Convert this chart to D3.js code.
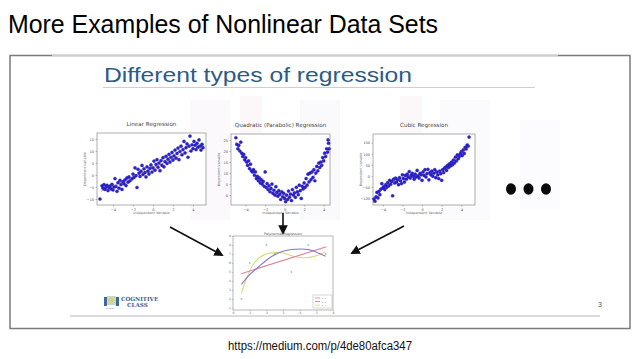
<!DOCTYPE html>
<html>
<head>
<meta charset="utf-8">
<script src="https://cdn.jsdelivr.net/npm/d3@7"></script>
<style>
  body { margin: 0; background: #fff; }
  svg { display: block; }
</style>
</head>
<body>
<script>
let width = 638;
let height = 359;

// ---- data ----
let linearPts = [[-5.3,-10],[-5.1,-4.5],[-5.0,-5.5],[-4.9,-4],[-4.8,-6],[-4.7,-5],[-4.6,-4.3],[-4.5,-6.5],[-4.4,-5.2],[-4.3,-4.6],[-4.2,-5.8],[-4.1,-3.9],[-4.0,-6.2],[-3.9,-5],[-3.8,-1.5],[-3.7,-4.8],[-3.6,-6.8],[-3.5,-3.2],[-3.4,-5.5],[-3.3,-2.2],[-3.2,-4],[-3.1,-6],[-3.0,-2.8],[-2.9,-3.6],[-2.8,-2],[-2.7,-4.4],[-2.6,-1.2],[-2.5,-3],[-2.4,-0.8],[-2.3,-2.4],[-2.1,-1.6],[-2.0,0.4],[-1.9,-1],[-1.8,3],[-1.7,-0.3],[-1.6,-5.2],[-1.5,2.4],[-1.4,0.8],[-1.3,-0.6],[-1.2,1.6],[-1.1,4],[-1.0,0.2],[-0.9,2.6],[-0.8,1],[-0.7,-0.8],[-0.6,3.4],[-0.5,1.6],[-0.4,0.4],[-0.3,2.8],[-0.2,4.2],[-0.1,1.2],[0.0,3],[0.1,5.8],[0.2,2],[0.3,4.4],[0.4,6.4],[0.5,3.2],[0.6,5],[0.7,1.8],[0.8,6],[0.9,4],[1.0,7.2],[1.1,3.4],[1.2,5.6],[1.3,7.8],[1.4,4.8],[1.5,6.6],[1.6,8.6],[1.7,5.4],[1.8,7.4],[1.9,9.4],[2.0,6.2],[2.1,8],[2.2,10.4],[2.3,7],[2.4,9],[2.5,11.2],[2.6,6.4],[2.7,9.8],[2.8,12],[2.9,8.4],[3.0,10.6],[3.1,14],[3.2,9.2],[3.3,11.4],[3.4,13],[3.5,7.4],[3.6,12],[3.7,16.2],[3.8,10],[3.9,12.6],[4.0,11],[4.1,14],[4.2,12.4],[4.3,10.6],[4.4,13.2],[4.5,11.6],[4.6,14.6],[4.7,12],[4.8,10.4],[4.9,12.8],[5.0,11.4]];
let linearFitX = [-5.2, 5.1];
let linearFitY = [-6.8, 12.6];

let quadPts = [[-5.0,26],[-4.9,23],[-4.8,21],[-4.7,22.5],[-4.6,20],[-4.5,24],[-4.4,19],[-4.3,17.5],[-4.2,18.5],[-4.1,16],[-4.0,17],[-3.9,15],[-3.8,13.5],[-3.7,15.5],[-3.6,12],[-3.5,14],[-3.4,11],[-3.3,10.5],[-3.2,11.5],[-3.1,9],[-3.0,10.5],[-2.9,7.5],[-2.8,8.5],[-2.7,6.5],[-2.6,7.8],[-2.5,5.5],[-2.4,7],[-2.3,5],[-2.2,6.2],[-2.1,4],[-2.0,10.5],[-1.9,3.5],[-1.8,5.2],[-1.7,2.5],[-1.6,4.2],[-1.5,1.5],[-1.4,3],[-1.3,5],[-1.2,0.8],[-1.1,2.2],[-1.0,0],[-0.9,3.8],[-0.8,1.2],[-0.7,-0.5],[-0.6,2],[-0.5,0.4],[-0.4,-2],[-0.3,1.5],[-0.2,-0.8],[-0.1,0.8],[0.0,-1.5],[0.1,-3],[0.2,0],[0.3,-2],[0.4,1.8],[0.5,-1],[0.6,0.5],[0.7,-2.5],[0.8,2.5],[0.9,0],[1.0,1],[1.1,-1],[1.2,3.5],[1.3,1.5],[1.4,0.2],[1.5,4.5],[1.6,2],[1.7,-1.5],[1.8,4],[1.9,2.8],[2.0,5.5],[2.1,3.5],[2.2,7.5],[2.3,4.5],[2.4,9.5],[2.5,6],[2.6,10],[2.7,7],[2.8,10.5],[2.9,8],[3.0,11.5],[3.1,6.5],[3.2,10],[3.3,13],[3.4,11],[3.5,14.5],[3.6,12.5],[3.7,15],[3.8,13.5],[3.9,17],[4.0,15.5],[4.1,19],[4.2,17.5],[4.3,21],[4.4,19.5],[4.45,25],[4.5,23.5],[4.55,21]];
let quadFitX = [-5, -4, -3, -2, -1, 0, 1, 2, 3, 4, 4.6];
let quadFitY = [24, 15.5, 8.5, 3.5, 0.5, -0.5, 0.5, 3.5, 8.5, 15.5, 20.5];

let cubicPts = [[-4.9,-105],[-4.8,-115],[-4.7,-95],[-4.6,-75],[-4.5,-100],[-4.4,-70],[-4.3,-85],[-4.2,-60],[-4.1,-35],[-4.0,-55],[-3.9,-48],[-3.8,-62],[-3.7,-40],[-3.6,-52],[-3.5,-30],[-3.4,-45],[-3.3,-20],[-3.2,-38],[-3.1,-25],[-3.0,-90],[-2.9,-15],[-2.8,-32],[-2.7,-10],[-2.6,-28],[-2.5,-18],[-2.4,-40],[-2.3,-8],[-2.2,-22],[-2.1,-35],[-2.0,5],[-1.9,-12],[-1.8,-28],[-1.7,2],[-1.6,-15],[-1.5,8],[-1.4,-5],[-1.3,20],[-1.2,-10],[-1.1,3],[-1.0,12],[-0.9,-2],[-0.8,-15],[-0.7,8],[-0.6,-5],[-0.5,25],[-0.4,0],[-0.3,-10],[-0.2,12],[-0.1,5],[0.0,-20],[0.1,18],[0.2,2],[0.3,28],[0.4,-5],[0.5,10],[0.6,30],[0.7,-18],[0.8,15],[0.9,5],[1.0,22],[1.1,-2],[1.2,12],[1.3,28],[1.4,-8],[1.5,18],[1.6,5],[1.7,-12],[1.8,22],[1.9,10],[2.0,-20],[2.1,28],[2.2,15],[2.3,35],[2.4,40],[2.5,25],[2.6,48],[2.7,38],[2.8,55],[2.9,45],[3.0,62],[3.1,50],[3.2,72],[3.3,58],[3.4,85],[3.5,68],[3.6,95],[3.7,78],[3.8,88],[3.9,100],[4.0,110],[4.1,92],[4.2,118],[4.3,102],[4.4,130],[4.5,122],[4.6,140],[4.7,135],[4.8,176]];
let cubicFitX = [-4.9, -4, -3, -2, -1, 0, 1, 2, 3, 4, 4.8];
let cubicFitY = [-110, -58, -25, -7, 2, 6, 10, 20, 45, 95, 150];

let polyPts = [[0.5,2],[1,6],[2,8],[2.5,7],[3.5,5],[4.5,8],[5.55,7]];
let polyLineX = [0.5, 5.6];
let polyLineY = [4.8, 7.8];
let polyPurpleX = [0.5, 1, 1.5, 2, 2.5, 3, 3.5, 4, 4.5, 5, 5.55];
let polyPurpleY = [3.6, 4.7, 5.5, 6.3, 6.9, 7.3, 7.5, 7.55, 7.5, 7.2, 6.75];
let polyYellowX = [0.5, 0.8, 1.2, 1.6, 2, 2.5, 3, 3.5, 4, 4.5, 5, 5.55];
let polyYellowY = [2.6, 4.2, 5.8, 6.6, 7.0, 7.15, 7.1, 6.8, 6.6, 6.6, 6.8, 7.25];

let panelTitles = ["Linear Regression", "Quadratic (Parabolic) Regression", "Cubic Regression"];
let xTicks = [-4, -2, 0, 2, 4];
let linearYTicks = [-10, -5, 0, 5, 10, 15];
let quadYTicks = [0, 5, 10, 15, 20, 25];
let cubicYTicks = [-100, -50, 0, 50, 100, 150];

let svg = d3.select("body").append("svg")
  .attr("width", width)
  .attr("height", height);

// page title
svg.append("text")
  .attr("x", 8).attr("y", 33)
  .attr("font-family", "Liberation Sans, Arial, sans-serif")
  .attr("font-size", 26)
  .attr("textLength", 430)
  .attr("lengthAdjust", "spacingAndGlyphs")
  .attr("fill", "#000")
  .text("More Examples of Nonlinear Data Sets");

// slide frame
svg.append("rect")
  .attr("x", 10).attr("y", 55.5)
  .attr("width", 620).attr("height", 273)
  .attr("fill", "#fff")
  .attr("stroke", "#7a7a7a")
  .attr("stroke-width", 1.5);
svg.append("line")
  .attr("x1", 52).attr("x2", 558).attr("y1", 55.5).attr("y2", 55.5)
  .attr("stroke", "#cfcfcf").attr("stroke-width", 1.6);

// faint watermark behind the charts
let wm = svg.append("g").attr("opacity", 0.22);
[[190, 100, 40, 120, "#efe6f4"], [240, 96, 22, 40, "#f5e2ea"], [300, 100, 40, 120, "#ebe9f5"],
 [400, 96, 22, 40, "#f5e4ea"], [440, 100, 50, 120, "#eee9f4"], [520, 120, 40, 90, "#f2edf4"]]
  .forEach(r => wm.append("rect").attr("x", r[0]).attr("y", r[1]).attr("width", r[2]).attr("height", r[3]).attr("fill", r[4]));

// slide subtitle
svg.append("text")
  .attr("x", 104).attr("y", 82)
  .attr("font-family", "Liberation Sans, Arial, sans-serif")
  .attr("font-size", 21)
  .attr("textLength", 308)
  .attr("lengthAdjust", "spacingAndGlyphs")
  .attr("fill", "#2d5b86")
  .text("Different types of regression");
svg.append("line")
  .attr("x1", 103).attr("x2", 535).attr("y1", 87.5).attr("y2", 87.5)
  .attr("stroke", "#c9d0dc").attr("stroke-width", 1);

// scatter panel
let drawPanel = (cfg) => {
  let x = d3.scaleLinear().domain(cfg.xDomain).range([cfg.left, cfg.right]);
  let y = d3.scaleLinear().domain(cfg.yDomain).range([cfg.bottom, cfg.top]);
  let g = svg.append("g");

  g.append("rect")
    .attr("x", cfg.left).attr("y", cfg.top)
    .attr("width", cfg.right - cfg.left).attr("height", cfg.bottom - cfg.top)
    .attr("fill", "#fff").attr("stroke", "#9a9a9a").attr("stroke-width", 0.8);

  let xAxis = g.append("g")
    .attr("transform", `translate(0,${cfg.bottom})`)
    .call(d3.axisBottom(x).tickValues(cfg.xTicks).tickSize(1.5).tickPadding(1.5).tickFormat(d3.format("d")));
  let yAxis = g.append("g")
    .attr("transform", `translate(${cfg.left},0)`)
    .call(d3.axisLeft(y).tickValues(cfg.yTicks).tickSize(1.5).tickPadding(1.5).tickFormat(d3.format("d")));
  [xAxis, yAxis].forEach(a => {
    a.select(".domain").remove();
    a.selectAll("line").attr("stroke", "#777").attr("stroke-width", 0.5);
    a.selectAll("text").attr("font-size", 3.6).attr("fill", "#555").attr("font-family", "DejaVu Sans, sans-serif");
  });

  g.append("text")
    .attr("x", (cfg.left + cfg.right) / 2).attr("y", cfg.bottom + 9)
    .attr("text-anchor", "middle").attr("font-size", 3.4).attr("fill", "#666")
    .attr("font-family", "DejaVu Sans, sans-serif")
    .text("Independent Variable");
  g.append("text")
    .attr("transform", `translate(${cfg.left - 11},${(cfg.top + cfg.bottom) / 2}) rotate(-90)`)
    .attr("text-anchor", "middle").attr("font-size", 3.4).attr("fill", "#666")
    .attr("font-family", "DejaVu Sans, sans-serif")
    .text("Dependent Variable");
  g.append("text")
    .attr("x", (cfg.left + cfg.right) / 2).attr("y", cfg.top - 7)
    .attr("text-anchor", "middle").attr("font-size", 5.6).attr("fill", "#444")
    .attr("font-family", "DejaVu Sans, sans-serif")
    .text(cfg.title);

  let line = d3.line().curve(d3.curveCatmullRom).x(d => x(d[0])).y(d => y(d[1]));
  g.append("path")
    .datum(cfg.fitX.map((v, i) => [v, cfg.fitY[i]]))
    .attr("fill", "none").attr("stroke", "#e88a8a").attr("stroke-width", 0.9)
    .attr("d", line);

  g.selectAll("circle.pt")
    .data(cfg.points)
    .join("circle")
    .attr("class", "pt")
    .attr("cx", d => x(d[0])).attr("cy", d => y(d[1]))
    .attr("r", 1.6)
    .attr("fill", "#2b22d8")
    .attr("stroke", "#1a1480").attr("stroke-width", 0.3);
};

drawPanel({
  title: panelTitles[0], points: linearPts, fitX: linearFitX, fitY: linearFitY,
  left: 97, right: 206, top: 133, bottom: 205,
  xDomain: [-5.6, 5.3], yDomain: [-12.5, 17.5], xTicks: xTicks, yTicks: linearYTicks
});
drawPanel({
  title: panelTitles[1], points: quadPts, fitX: quadFitX, fitY: quadFitY,
  left: 231, right: 330, top: 134, bottom: 205,
  xDomain: [-5.5, 4.65], yDomain: [-4.5, 27.7], xTicks: xTicks, yTicks: quadYTicks
});
drawPanel({
  title: panelTitles[2], points: cubicPts, fitX: cubicFitX, fitY: cubicFitY,
  left: 373, right: 475, top: 134, bottom: 205,
  xDomain: [-5.0, 5.4], yDomain: [-132, 190], xTicks: xTicks, yTicks: cubicYTicks
});

// ellipsis
svg.selectAll("ellipse.dot")
  .data([0, 1, 2])
  .join("ellipse")
  .attr("cx", d => 511 + d * 17.5).attr("cy", 189)
  .attr("rx", 5).attr("ry", 5.8)
  .attr("fill", "#0a0a0a");

// arrows
let defs = svg.append("defs");
defs.append("marker")
  .attr("id", "ah").attr("viewBox", "0 0 10 10")
  .attr("refX", 8).attr("refY", 5)
  .attr("markerWidth", 6).attr("markerHeight", 6)
  .attr("orient", "auto")
  .append("path").attr("d", "M0,0 L10,5 L0,10 z").attr("fill", "#111");
[[170, 227, 222, 255], [283, 213, 283, 233], [404, 226, 352, 253]].forEach(a => {
  svg.append("line")
    .attr("x1", a[0]).attr("y1", a[1]).attr("x2", a[2]).attr("y2", a[3])
    .attr("stroke", "#111").attr("stroke-width", 1.6)
    .attr("marker-end", "url(#ah)");
});

// polynomial regression panel
let px = d3.scaleLinear().domain([0, 6]).range([233, 333]);
let py = d3.scaleLinear().domain([0.75, 9]).range([310, 236]);
let pg = svg.append("g");
pg.append("rect")
  .attr("x", 233).attr("y", 236).attr("width", 100).attr("height", 74)
  .attr("fill", "#fff").attr("stroke", "#888").attr("stroke-width", 0.6);
pg.append("text")
  .attr("x", 283).attr("y", 234.5).attr("text-anchor", "middle")
  .attr("font-size", 3.4).attr("fill", "#555").attr("font-family", "DejaVu Sans, sans-serif")
  .text("Polynomial Regression");
let pxAxis = pg.append("g").attr("transform", "translate(0,310)")
  .call(d3.axisBottom(px).ticks(6).tickSize(1.2).tickPadding(1).tickFormat(d3.format("d")));
let pyAxis = pg.append("g").attr("transform", "translate(233,0)")
  .call(d3.axisLeft(py).tickValues([1, 2, 3, 4, 5, 6, 7, 8, 9]).tickSize(1.2).tickPadding(1).tickFormat(d3.format("d")));
[pxAxis, pyAxis].forEach(a => {
  a.select(".domain").remove();
  a.selectAll("line").attr("stroke", "#777").attr("stroke-width", 0.4);
  a.selectAll("text").attr("font-size", 3).attr("fill", "#666").attr("font-family", "DejaVu Sans, sans-serif");
});
let pline = d3.line().curve(d3.curveCatmullRom).x(d => px(d[0])).y(d => py(d[1]));
pg.append("path")
  .datum(polyYellowX.map((v, i) => [v, polyYellowY[i]]))
  .attr("fill", "none").attr("stroke", "#d9d77a").attr("stroke-width", 1.1).attr("d", pline);
pg.append("path")
  .datum(polyLineX.map((v, i) => [v, polyLineY[i]]))
  .attr("fill", "none").attr("stroke", "#dd7f98").attr("stroke-width", 1.1).attr("d", pline);
pg.append("path")
  .datum(polyPurpleX.map((v, i) => [v, polyPurpleY[i]]))
  .attr("fill", "none").attr("stroke", "#8178cf").attr("stroke-width", 1.1).attr("d", pline);
pg.selectAll("text.pt")
  .data(polyPts)
  .join("text")
  .attr("class", "pt")
  .attr("x", d => px(d[0])).attr("y", d => py(d[1]) + 1)
  .attr("text-anchor", "middle").attr("font-size", 3.5).attr("fill", "#555")
  .text("x");
// legend
let lg = pg.append("g").attr("transform", "translate(313,295)");
lg.append("rect").attr("width", 19).attr("height", 13).attr("fill", "#fff").attr("stroke", "#999").attr("stroke-width", 0.4);
["#dd7f98", "#8178cf", "#d9d77a"].forEach((c, i) => {
  lg.append("line").attr("x1", 2).attr("x2", 7).attr("y1", 3 + i * 3.6).attr("y2", 3 + i * 3.6)
    .attr("stroke", c).attr("stroke-width", 0.8);
  lg.append("text").attr("x", 9).attr("y", 4.2 + i * 3.6).attr("font-size", 2.6).attr("fill", "#666")
    .text("d=" + (i + 1));
});

// footer line, logo, page number
svg.append("line")
  .attr("x1", 70).attr("x2", 600).attr("y1", 316).attr("y2", 316)
  .attr("stroke", "#b9b9b9").attr("stroke-width", 1.2);
let logo = svg.append("g").attr("transform", "translate(104,295)");
logo.append("rect").attr("x", 0).attr("y", 2).attr("width", 3).attr("height", 9).attr("fill", "#3a6a9e");
logo.append("rect").attr("x", 3).attr("y", 1).attr("width", 9).attr("height", 9).attr("fill", "#c9d9c0");
logo.append("circle").attr("cx", 7).attr("cy", 5).attr("r", 2.5).attr("fill", "#e2cf6a");
logo.append("rect").attr("x", 12).attr("y", 2).attr("width", 3).attr("height", 9).attr("fill", "#3a6a9e");
logo.append("text").attr("x", 2).attr("y", 14).attr("font-size", 2.4).attr("fill", "#3a6a9e").text("by IBM");
logo.append("text").attr("x", 17).attr("y", 6)
  .attr("font-family", "DejaVu Serif, serif").attr("font-size", 5.6).attr("font-weight", "bold")
  .attr("fill", "#2f5f93").text("COGNITIVE");
logo.append("text").attr("x", 23).attr("y", 11.5)
  .attr("font-family", "DejaVu Serif, serif").attr("font-size", 5.6).attr("font-weight", "bold")
  .attr("fill", "#2f5f93").text("CLASS");
svg.append("text")
  .attr("x", 598).attr("y", 307)
  .attr("font-family", "Liberation Sans, Arial, sans-serif").attr("font-size", 7)
  .attr("fill", "#555").text("3");

// source url
svg.append("text")
  .attr("x", 320).attr("y", 350)
  .attr("text-anchor", "middle")
  .attr("font-family", "Liberation Sans, Arial, sans-serif")
  .attr("font-size", 12)
  .attr("textLength", 184)
  .attr("lengthAdjust", "spacingAndGlyphs")
  .attr("fill", "#111")
  .text("https://medium.com/p/4de80afca347");
</script>
</body>
</html>
